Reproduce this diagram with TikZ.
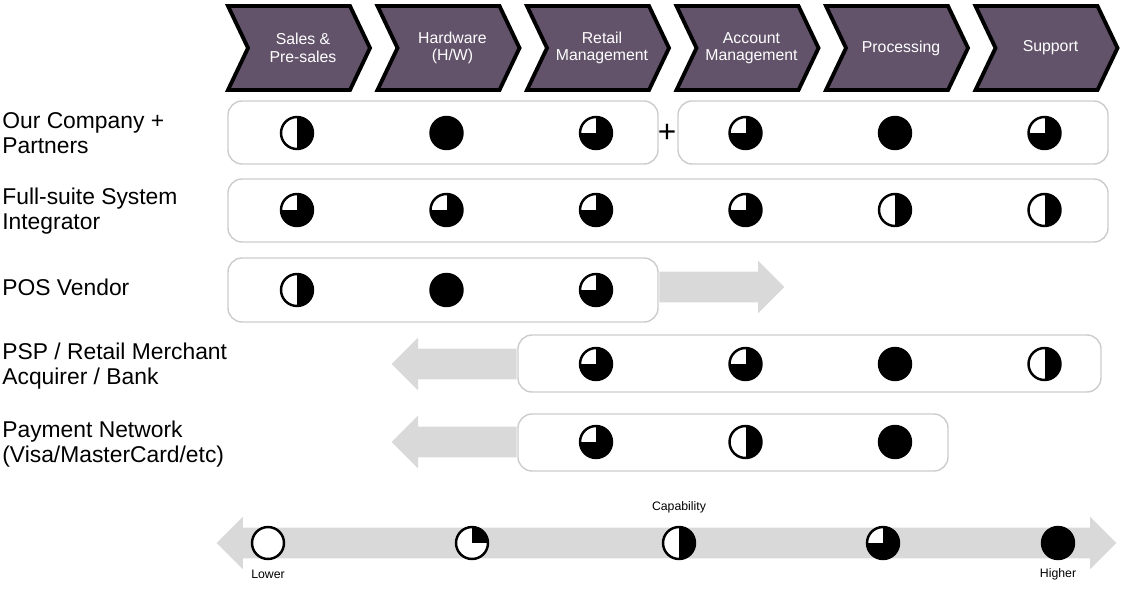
\documentclass[tikz,border=0pt]{standalone}
\usepackage{fontspec}
\setmainfont{Liberation Sans}
\usetikzlibrary{shapes.arrows}
\definecolor{stepfill}{HTML}{62536B}
\definecolor{barfill}{HTML}{D9D9D9}
\tikzset{
  chev/.style={draw=black,line width=2.2pt,fill=stepfill},
  row/.style={draw=black!20,rounded corners=8pt,line width=0.8pt},
  lab/.style={anchor=west,align=left,font=\fontsize{13}{14}\selectfont,inner sep=0pt},
  ball/.style={circle,draw=black,line width=1.4pt,fill=white,minimum size=0.64cm,inner sep=0pt},
  q1/.style={ball,path picture={\fill[black] (path picture bounding box.center) rectangle (path picture bounding box.north east);}},
  q2/.style={ball,path picture={\fill[black] (path picture bounding box.south) rectangle (path picture bounding box.north east);}},
  q3/.style={ball,path picture={\fill[black] (path picture bounding box.south) rectangle (path picture bounding box.north east);
                                \fill[black] (path picture bounding box.south west) rectangle (path picture bounding box.center);}},
  q4/.style={ball,fill=black},
  q0/.style={ball},
  garrow/.style={fill=barfill,draw=none,single arrow,single arrow head extend=0.22cm,minimum height=#1,inner xsep=0pt,inner ysep=0.3cm}
}
\begin{document}
\begin{tikzpicture}[x=0.02cm,y=-0.02cm]
\useasboundingbox (0,0) rectangle (1125,589);
% value chain header
\foreach \t [count=\i from 0] in {Sales \&\\Pre-sales,Hardware\\(H/W),Retail\\Management,Account\\Management,Processing,Support}{
  \pgfmathsetmacro\xa{228+149.5*\i}
  \filldraw[chev] (\xa,6) -- ++(122,0) -- ++(20,42) -- ++(-20,42) -- ++(-122,0) -- ++(20,-42) -- cycle;
  \node[text=white,align=center,font=\fontsize{9}{10}\selectfont] (S\i) at (\xa+75,48) {\t};
}
% row labels
\node[lab] (L1) at (2,133) {Our Company +\\Partners};
\node[lab] (L2) at (2,211) {Full-suite System\\Integrator};
\node[lab] (L3) at (2,287) {POS Vendor};
\node[lab] (L4) at (2,366) {PSP / Retail Merchant\\Acquirer / Bank};
\node[lab] (L5) at (2,444) {Payment Network\\(Visa/MasterCard/etc)};
% row boxes
\draw[row] (228,101) rectangle (658,164);
\draw[row] (678,101) rectangle (1108,164);
\node[font=\fontsize{18}{18}\selectfont] (plus) at (667,133) {+};
\draw[row] (228,179) rectangle (1108,242);
\draw[row] (228,258) rectangle (658,322);
\draw[row] (518,335) rectangle (1101,392);
\draw[row] (518,414) rectangle (948,471);
\node[garrow=2.5cm,anchor=west] (A3) at (659,287) {};
\node[garrow=2.5cm,shape border rotate=180,anchor=east] (A4) at (517,364) {};
\node[garrow=2.5cm,shape border rotate=180,anchor=east] (A5) at (517,442) {};
% harvey balls
\foreach \s [count=\i from 0] in {q2,q4,q3,q3,q4,q3}{\node[\s] (B1\i) at (297+149.5*\i,133) {};}
\foreach \s [count=\i from 0] in {q3,q3,q3,q3,q2,q2}{\node[\s] (B2\i) at (297+149.5*\i,210) {};}
\foreach \s [count=\i from 0] in {q2,q4,q3}{\node[\s] (B3\i) at (297+149.5*\i,290) {};}
\foreach \s [count=\i from 2] in {q3,q3,q4,q2}{\node[\s] (B4\i) at (297+149.5*\i,364) {};}
\foreach \s [count=\i from 2] in {q3,q2,q4}{\node[\s] (B5\i) at (297+149.5*\i,442) {};}
% capability scale
\node[fill=barfill,draw=none,double arrow,double arrow head extend=0.22cm,minimum height=18cm,inner xsep=0pt,inner ysep=0.3cm] (bar) at (666.5,543) {};
\node[font=\fontsize{7}{8}\selectfont] (cap) at (679,507) {Capability};
\foreach \s/\x [count=\i] in {q0/268,q1/472,q2/679,q3/883,q4/1058}{\node[\s] (K\i) at (\x,543) {};}
\node[font=\fontsize{7}{8}\selectfont] (lo) at (268,574) {Lower};
\node[font=\fontsize{7}{8}\selectfont] (hi) at (1058,574) {Higher};
\end{tikzpicture}
\end{document}
